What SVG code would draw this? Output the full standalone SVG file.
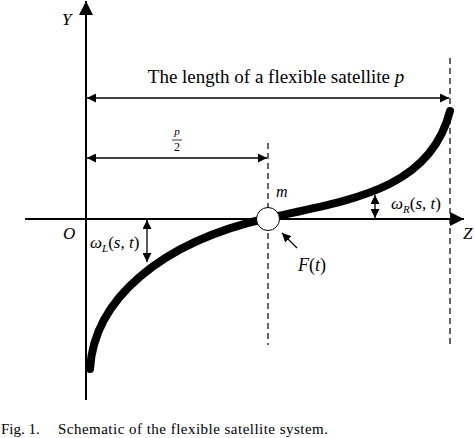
<svg xmlns="http://www.w3.org/2000/svg" width="474" height="438" viewBox="0 0 474 438">
<style>
.ax{stroke:#000;stroke-width:2;fill:none}
.dim{stroke:#000;stroke-width:1.3;fill:none}
.dash{stroke:#000;stroke-width:1.2;stroke-dasharray:6,4;fill:none}
.t{font-family:"Liberation Serif",serif;fill:#000}
.m{font-family:"Liberation Serif",serif;font-style:italic;fill:#000}
</style>
<defs>
<marker id="big" viewBox="0 0 10 10" refX="10" refY="5" markerWidth="14" markerHeight="14" markerUnits="userSpaceOnUse" orient="auto-start-reverse"><path d="M0,0 L10,5 L0,10 z" fill="#000"/></marker>
<marker id="sm" viewBox="0 0 10 10" refX="10" refY="5" markerWidth="9" markerHeight="9" markerUnits="userSpaceOnUse" orient="auto-start-reverse"><path d="M0,0 L10,5 L0,10 z" fill="#000"/></marker>
</defs>
<rect width="474" height="438" fill="#fff"/>
<g id="connectors">
<line class="ax" x1="86" y1="400" x2="86" y2="1" marker-end="url(#big)"/>
<line class="ax" x1="25" y1="219" x2="464" y2="219" marker-end="url(#big)"/>
<line class="dash" x1="450" y1="58" x2="450" y2="345"/>
<line class="dash" x1="268" y1="143" x2="268" y2="345"/>
<line class="dim" x1="87" y1="98" x2="449" y2="98" marker-start="url(#sm)" marker-end="url(#sm)"/>
<line class="dim" x1="87" y1="158" x2="267" y2="158" marker-start="url(#sm)" marker-end="url(#sm)"/>
<line class="dim" x1="147" y1="220" x2="147" y2="262" marker-start="url(#sm)" marker-end="url(#sm)"/>
<line class="dim" x1="375" y1="195" x2="375" y2="218" marker-start="url(#sm)" marker-end="url(#sm)"/>
<line class="dim" x1="297" y1="248" x2="282" y2="233" marker-end="url(#sm)"/>
</g>
<g id="curve">
<path d="M90,369 C94,300 160,242 268,218 C350,200 430,190 450,111" fill="none" stroke="#000" stroke-width="8" stroke-linecap="round"/>
</g>
<g id="mass">
<circle cx="268" cy="219" r="11.5" fill="#fff" stroke="#000" stroke-width="1"/>
<text class="m" x="276" y="197" font-size="16">m</text>
</g>
<g id="labels">
<text class="m" x="62" y="25" font-size="17">Y</text>
<text class="m" x="463" y="239" font-size="17">Z</text>
<text class="m" x="63" y="239" font-size="17">O</text>
<text class="t" x="276" y="83" font-size="19" text-anchor="middle">The length of a flexible satellite <tspan font-style="italic">p</tspan></text>
<text class="m" x="177" y="135" font-size="11" text-anchor="middle">p</text>
<line x1="172" y1="140" x2="182" y2="140" stroke="#000" stroke-width="0.8"/>
<text class="t" x="177" y="151" font-size="12" text-anchor="middle">2</text>
<text class="m" x="90" y="248" font-size="17">ω<tspan font-size="11" dy="4">L</tspan><tspan font-style="normal" dy="-4">(</tspan>s<tspan font-style="normal">,</tspan> t<tspan font-style="normal">)</tspan></text>
<text class="m" x="391" y="209" font-size="17">ω<tspan font-size="11" dy="4">R</tspan><tspan font-style="normal" dy="-4">(</tspan>s<tspan font-style="normal">,</tspan> t<tspan font-style="normal">)</tspan></text>
<text class="m" x="298" y="271" font-size="18">F<tspan font-style="normal">(</tspan>t<tspan font-style="normal">)</tspan></text>
</g>
<g id="caption">
<text class="t" x="1" y="434" font-size="15">Fig. 1.</text>
<text class="t" x="58" y="434" font-size="15" textLength="270" lengthAdjust="spacing">Schematic of the flexible satellite system.</text>
</g>
</svg>
